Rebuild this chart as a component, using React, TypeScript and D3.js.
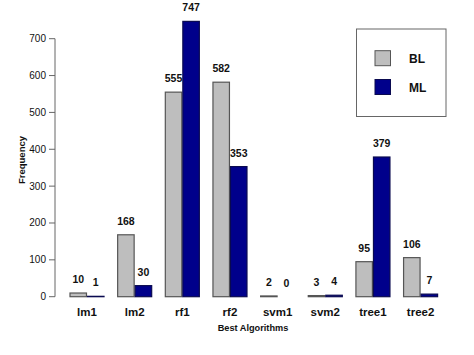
import React from "react";
import * as d3 from "d3";

const categories = ["lm1", "lm2", "rf1", "rf2", "svm1", "svm2", "tree1", "tree2"];
const series = ["BL", "ML"];
const blValues = [10, 168, 555, 582, 2, 3, 95, 106];
const mlValues = [1, 30, 747, 353, 0, 4, 379, 7];
const yTicks = [0, 100, 200, 300, 400, 500, 600, 700];
const colors = ["#bebebe", "#00008b"];
const strokes = ["#555555", "#0a0a50"];

export default function App() {
  const W = 474, H = 355;
  const y = d3.scaleLinear().domain([0, 700]).range([296.7, 38.7]);
  const x = d3.scaleBand<string>().domain(categories).range([70, 437.6]).paddingInner(0.286).paddingOuter(0);
  const xi = d3.scaleBand<string>().domain(series).range([0, x.bandwidth()]).paddingInner(0.06);
  const values = [blValues, mlValues];
  const font = "Liberation Sans, Arial, sans-serif";

  return (
    <svg width={W} height={H} style={{ position: "absolute", left: 0, top: 0, background: "#fff" }} fontFamily={font}>
      <rect x={0} y={0} width={W} height={H} fill="#fff" />
      {/* y axis */}
      <line x1={55} x2={55} y1={y(700)} y2={y(0)} stroke="#666" strokeWidth={1} />
      {yTicks.map((t) => (
        <g key={t}>
          <line x1={49} x2={55} y1={y(t)} y2={y(t)} stroke="#666" />
          <text x={46} y={y(t)} dy="0.35em" textAnchor="end" fontSize={10} fill="#111">{t}</text>
        </g>
      ))}
      <text transform={`translate(25,160) rotate(-90)`} textAnchor="middle" fontSize={9.5} fontWeight="bold" fill="#111">Frequency</text>
      {/* bars */}
      {categories.map((c, i) => (
        <g key={c}>
          {series.map((s, j) => {
            const v = values[j][i];
            const bx = (x(c) as number) + (xi(s) as number);
            const bw = xi.bandwidth();
            const top = y(v);
            return (
              <g key={s}>
                <rect x={bx} y={top} width={bw} height={Math.max(y(0) - top, 0)} fill={colors[j]} stroke={strokes[j]} strokeWidth={1.2} />
                <text x={bx + bw / 2} y={top - 10} textAnchor="middle" fontSize={10.5} fontWeight="bold" fill="#111">{v}</text>
              </g>
            );
          })}
          <text x={(x(c) as number) + x.bandwidth() / 2} y={316} textAnchor="middle" fontSize={11.5} fontWeight="bold" fill="#111">{c}</text>
        </g>
      ))}
      <text x={253} y={330.5} textAnchor="middle" fontSize={9.2} fontWeight="bold" fill="#111">Best Algorithms</text>
      {/* legend */}
      <rect x={356.5} y={29} width={89.5} height={87.5} fill="#fff" stroke="#666" strokeWidth={1} />
      {series.map((s, j) => (
        <g key={s}>
          <rect x={375} y={50.7 + j * 28.8} width={15.5} height={15} fill={colors[j]} stroke={strokes[j]} strokeWidth={1} />
          <text x={409} y={58.5 + j * 28.8} dy="0.35em" fontSize={12} fontWeight="bold" fill="#111">{s}</text>
        </g>
      ))}
    </svg>
  );
}
